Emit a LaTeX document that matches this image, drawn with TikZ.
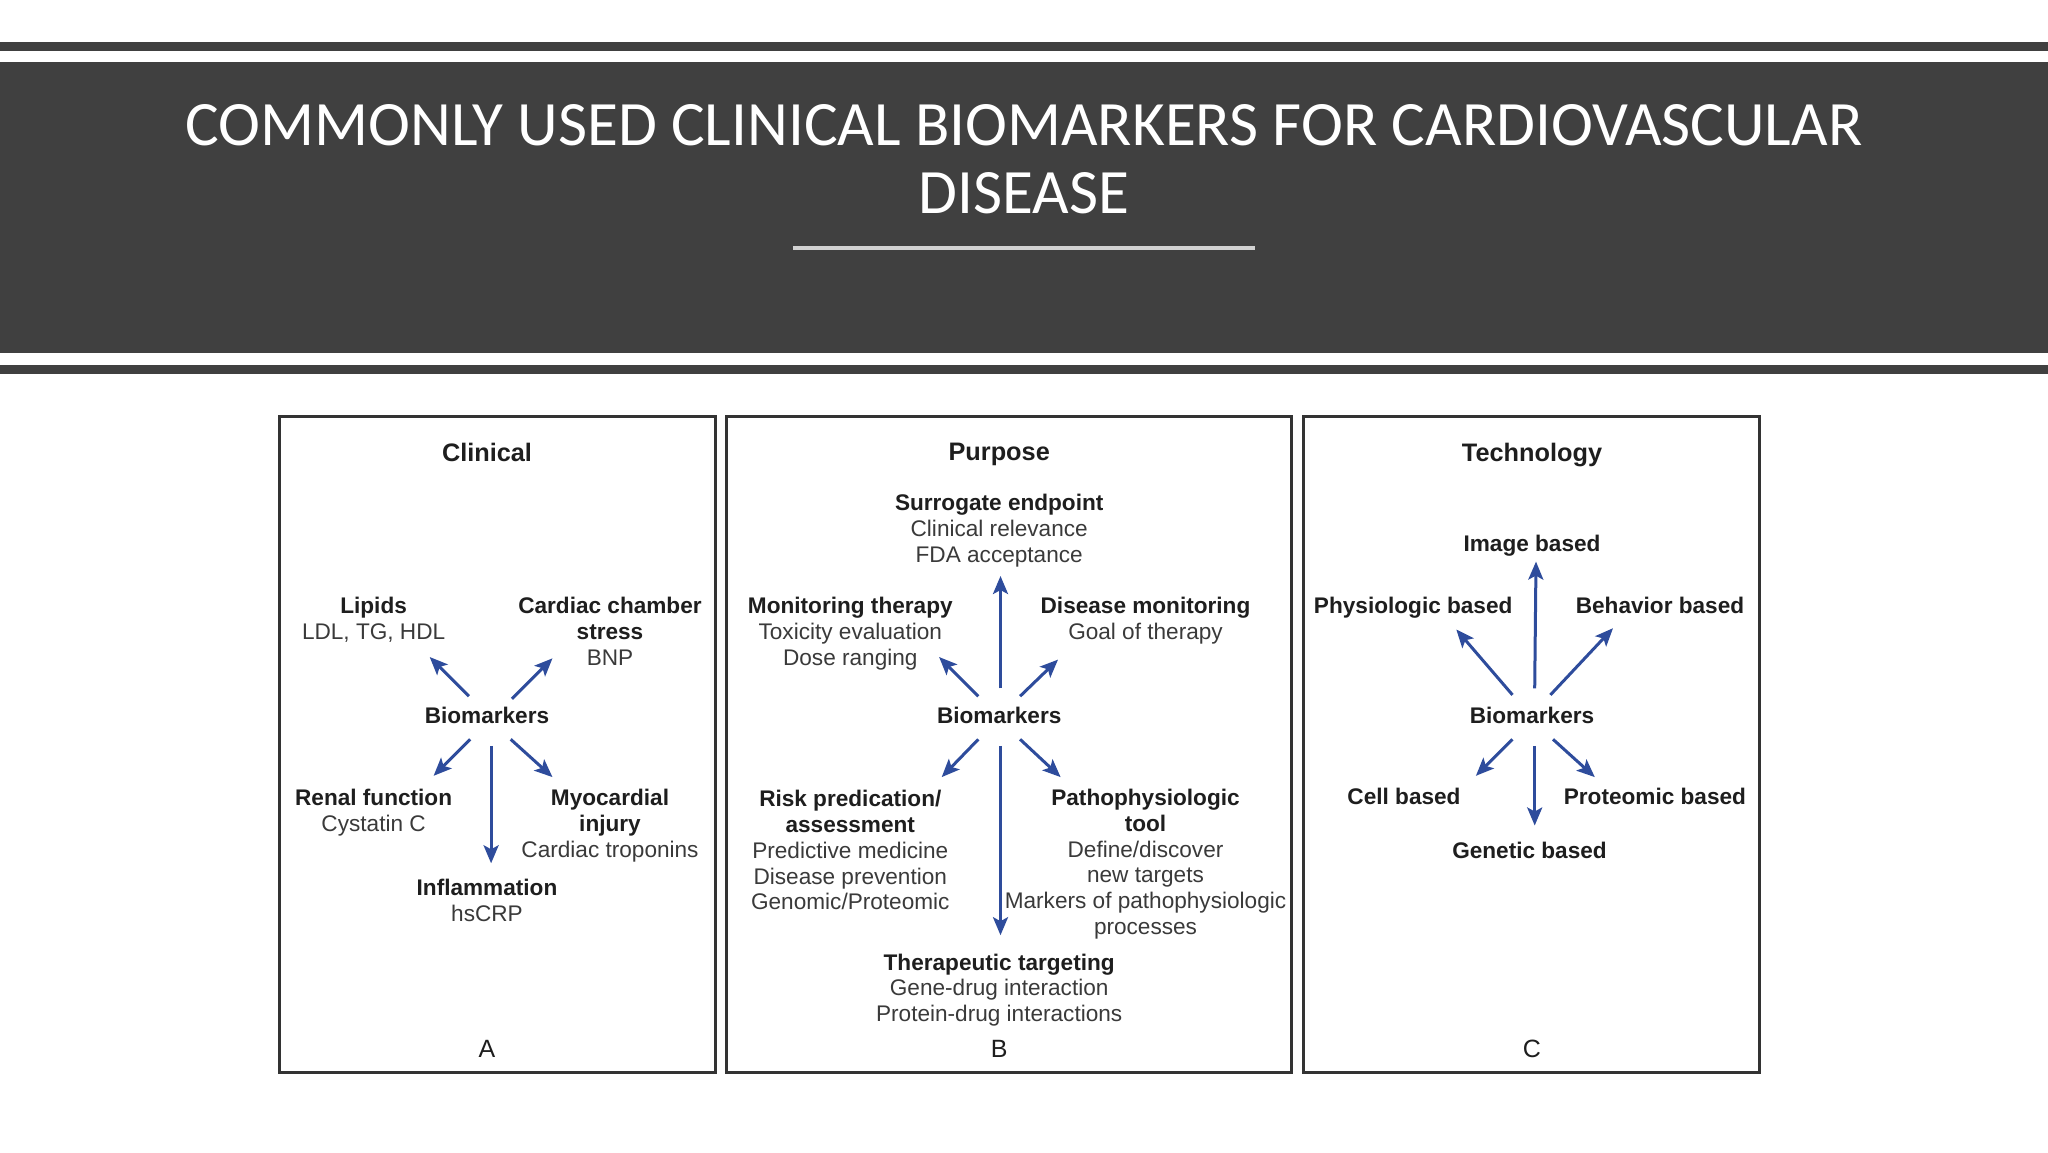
\documentclass[tikz,border=0pt]{standalone}
\usepackage{fontspec}
\setmainfont{Liberation Sans}
\newfontfamily\titlefont{Carlito}
\usetikzlibrary{arrows.meta}
\definecolor{hdr}{HTML}{404040}
\definecolor{arrblue}{HTML}{2E4C9C}
\definecolor{txtdark}{HTML}{1E1E1E}
\definecolor{txtgrey}{HTML}{3A3A3A}
\definecolor{rulegrey}{HTML}{D2D2D2}
\definecolor{framegrey}{HTML}{333333}
\newcommand{\bhead}[1]{\textcolor{txtdark}{\bfseries #1}}
\begin{document}
\begin{tikzpicture}[x=1pt,y=-1pt,
  lbl/.style={inner sep=0pt, align=center, text=txtgrey, font=\fontsize{22.6}{25.7}\selectfont},
  ttl/.style={inner sep=0pt, text=txtdark, font=\fontsize{25.3}{28}\selectfont\bfseries},
  plabel/.style={inner sep=0pt, text=txtdark, font=\fontsize{25}{28}\selectfont},
  htitle/.style={inner sep=0pt, text=white, anchor=base, font=\titlefont\fontsize{63.2}{68}\selectfont},
  arr/.style={draw=arrblue, line width=3pt, -{Stealth[length=18pt,width=15pt,inset=4pt]}},
  panel/.style={draw=framegrey, line width=3pt},
]
\useasboundingbox (0,0) rectangle (2048,1152);
\fill[white] (0,0) rectangle (2048,1152);
% header
\fill[hdr] (0,41.7) rectangle (2048,50.7);
\fill[hdr] (0,61.7) rectangle (2048,352.7);
\fill[hdr] (0,365) rectangle (2048,374);
\node[htitle] (title1) at (1024,145) {COMMONLY USED CLINICAL BIOMARKERS FOR CARDIOVASCULAR};
\node[htitle] (title2) at (1024,213) {DISEASE};
\draw[rulegrey, line width=4pt] (793,248) -- (1255,248);
% panels
\draw[panel] (279.5,416.6) rectangle (715.7,1072);
\draw[panel] (726.2,416.6) rectangle (1291.8,1072);
\draw[panel] (1303.5,416.6) rectangle (1759.3,1072);

% ---------- Panel A ----------
\node[ttl] (tA) at (487,452) {Clinical};
\node[lbl] (lipA) at (373.6,619.5) {\bhead{Lipids}\\LDL, TG, HDL};
\node[lbl] (cardA) at (610,631.4) {\bhead{Cardiac chamber}\\\bhead{stress}\\BNP};
\node[lbl] (bioA) at (487,715.8) {\bhead{Biomarkers}};
\node[lbl] (renA) at (373.6,812.4) {\bhead{Renal function}\\Cystatin C};
\node[lbl] (myoA) at (610,825.5) {\bhead{Myocardial}\\\bhead{injury}\\Cardiac troponins};
\node[lbl] (infA) at (487,900.4) {\bhead{Inflammation}\\hsCRP};
\node[plabel] (labA) at (487,1048.8) {A};
\coordinate (a1s) at (468.9,696.2); \coordinate (a1e) at (429.7,657);
\coordinate (a2s) at (512,698.8);   \coordinate (a2e) at (552.5,658.3);
\coordinate (a3s) at (470.2,739.3); \coordinate (a3e) at (433.6,775.8);
\coordinate (a4s) at (510.7,739.3); \coordinate (a4e) at (552.5,777.1);
\coordinate (a5s) at (491.1,745.8); \coordinate (a5e) at (491.1,863.3);
\foreach \i in {1,...,5} \draw[arr] (a\i s) -- (a\i e);

% ---------- Panel B ----------
\node[ttl] (tB) at (999.2,454.6) {Purpose};
\node[lbl] (surB) at (999.2,530.7) {\bhead{Surrogate endpoint}\\Clinical relevance\\FDA acceptance};
\node[lbl] (monB) at (850.3,633.5) {\bhead{Monitoring therapy}\\Toxicity evaluation\\Dose ranging};
\node[lbl] (disB) at (1145.5,620.4) {\bhead{Disease monitoring}\\Goal of therapy};
\node[lbl] (bioB) at (999.2,715.8) {\bhead{Biomarkers}};
\node[lbl] (riskB) at (850.3,850.3) {\bhead{Risk predication/}\\\bhead{assessment}\\Predictive medicine\\Disease prevention\\Genomic/Proteomic};
\node[lbl] (patB) at (1145.5,864) {\bhead{Pathophysiologic}\\\bhead{tool}\\Define/discover\\new targets\\Markers of pathophysiologic\\processes};
\node[lbl] (therB) at (999.2,990) {\bhead{Therapeutic targeting}\\Gene-drug interaction\\Protein-drug interactions};
\node[plabel] (labB) at (999.2,1048.8) {B};
\coordinate (b1s) at (1000.5,688.3); \coordinate (b1e) at (1000.5,576);
\coordinate (b2s) at (978.3,696.2);  \coordinate (b2e) at (939.1,657);
\coordinate (b3s) at (1020.1,696.2); \coordinate (b3e) at (1058,659.6);
\coordinate (b4s) at (978.3,739.3);  \coordinate (b4e) at (941.7,777.1);
\coordinate (b5s) at (1020.1,739.3); \coordinate (b5e) at (1060.6,777.1);
\coordinate (b6s) at (1000.5,745.8); \coordinate (b6e) at (1000.5,935.2);
\foreach \i in {1,...,6} \draw[arr] (b\i s) -- (b\i e);

% ---------- Panel C ----------
\node[ttl] (tC) at (1532,454.6) {Technology};
\node[lbl] (imgC) at (1532,545.9) {\bhead{Image based}};
\node[lbl] (phyC) at (1413.2,607.3) {\bhead{Physiologic based}};
\node[lbl] (behC) at (1660,605.7) {\bhead{Behavior based}};
\node[lbl] (bioC) at (1532,715.8) {\bhead{Biomarkers}};
\node[lbl] (cellC) at (1404,796.7) {\bhead{Cell based}};
\node[lbl] (proC) at (1654.9,796.7) {\bhead{Proteomic based}};
\node[lbl] (genC) at (1529.5,850.3) {\bhead{Genetic based}};
\node[plabel] (labC) at (1532,1048.8) {C};
\coordinate (c1s) at (1534.7,688.3); \coordinate (c1e) at (1536,561.6);
\coordinate (c2s) at (1512.5,694.9); \coordinate (c2e) at (1456.3,629.5);
\coordinate (c3s) at (1550.4,694.9); \coordinate (c3e) at (1613,628.2);
\coordinate (c4s) at (1512.5,739.3); \coordinate (c4e) at (1475.9,775.8);
\coordinate (c5s) at (1553,739.3);   \coordinate (c5e) at (1594.8,777.1);
\coordinate (c6s) at (1534.7,745.8); \coordinate (c6e) at (1534.7,825.5);
\foreach \i in {1,...,6} \draw[arr] (c\i s) -- (c\i e);
\end{tikzpicture}
\end{document}
